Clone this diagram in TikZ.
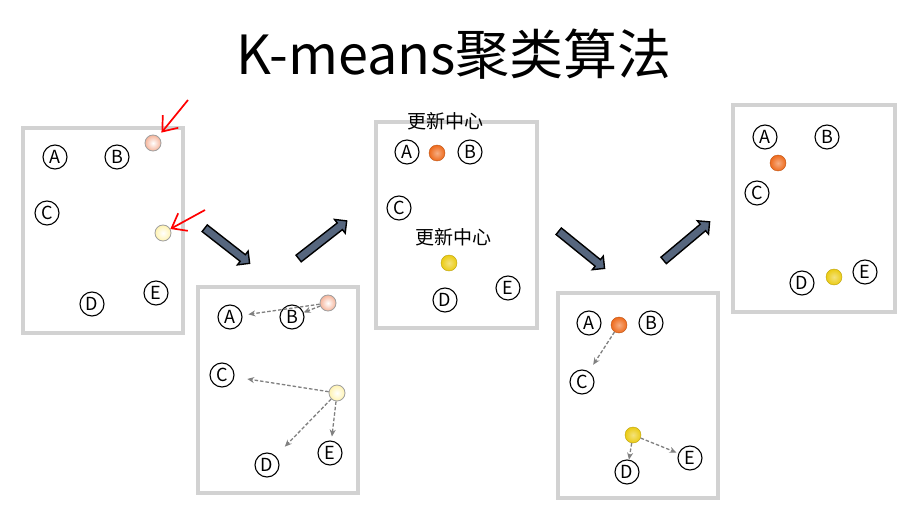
\documentclass[tikz,border=0pt]{standalone}
\usepackage{fontspec}
\setmainfont{Noto Sans CJK SC}
\usetikzlibrary{arrows.meta,shapes.arrows,calc}
\definecolor{ardoise}{HTML}{56667E}
\definecolor{peche}{HTML}{F6B49A}
\definecolor{paille}{HTML}{FFF3B0}
\definecolor{orangec}{HTML}{EE6A1C}
\definecolor{jaunec}{HTML}{EBCB12}

\begin{document}
\begin{tikzpicture}[x=1pt,y=-1pt,
	pt/.style={circle,draw,line width=1.1pt,minimum size=24pt,inner sep=0pt,font=\fontsize{18}{18}\selectfont},
	cadre/.style={fill=white,draw=gray!35,line width=4.5pt},
	ctr/.style={circle,minimum size=16pt,inner sep=0pt,draw=#1!80!black,line width=0.4pt,inner color=#1!55!white,outer color=#1},
	pale/.style={circle,minimum size=16pt,inner sep=0pt,draw=gray!75,line width=0.8pt,inner color=white,outer color=#1},
	lien/.style={draw=gray,line width=1.3pt,dash pattern=on 3.5pt off 2pt,-{Stealth[length=7pt,width=6pt]}},
	fleche/.style={single arrow,draw=black,line width=1.4pt,fill=ardoise,single arrow head extend=4.5pt,single arrow head indent=0pt,minimum height=#1,inner sep=3.5pt},
	rouge/.style={red,line width=1.7pt,-{Straight Barb[length=13pt,width=20pt]}},
	maj/.style={font=\fontsize{19}{19}\selectfont}]
					%\draw[help lines] (0,0) grid[step=50] (914,511);
					\useasboundingbox (0,0) rectangle (914,511);

					%TITRE
					\node[anchor=base,font=\fontsize{54}{60}\selectfont] (titre) at (454,75) {K-means聚类算法};

					%CADRES
					\draw[cadre] (23,128) rectangle (183,333);
					\draw[cadre] (198,287) rectangle (358,493);
					\draw[cadre] (376,122) rectangle (537,328);
					\draw[cadre] (558,293) rectangle (718,498);
					\draw[cadre] (733,105) rectangle (895,312);

					%ETAPE 1 : centres au hasard
					\node[pt] (A1) at (55,157) {A};
					\node[pt] (B1) at (117,157) {B};
					\node[pt] (C1) at (47,213) {C};
					\node[pt] (D1) at (92,304) {D};
					\node[pt] (E1) at (156,293) {E};
					\node[pale=peche] (k1a) at (153,143) {};
					\node[pale=paille] (k1b) at (163,233) {};
					\coordinate (r1) at (188,100);
					\coordinate (r2) at (205,210);
					\draw[rouge,shorten >=5pt] (r1) -- (k1a);
					\draw[rouge] (r2) -- (k1b);

					%ETAPE 2 : affectation
					\node[pt] (A2) at (230,317) {A};
					\node[pt] (B2) at (292,317) {B};
					\node[pt] (C2) at (222,375) {C};
					\node[pt] (D2) at (267,465) {D};
					\node[pt] (E2) at (330,453) {E};
					\node[pale=peche] (k2a) at (328,303) {};
					\node[pale=paille] (k2b) at (337,393) {};
					\draw[lien,shorten >=6pt] (k2a) -- (A2);
					\draw[lien] (k2a) -- (B2);
					\draw[lien,shorten >=13pt] (k2b) -- (C2);
					\draw[lien,shorten >=13pt] (k2b) -- (D2);
					\draw[lien,shorten >=4pt] (k2b) -- (E2);

					%ETAPE 3 : nouveaux centres
					\node[maj] (t3a) at (445,121) {更新中心};
					\node[pt] (A3) at (407,152) {A};
					\node[pt] (B3) at (470,152) {B};
					\node[pt] (C3) at (399,208) {C};
					\node[maj] (t3b) at (453,237) {更新中心};
					\node[pt] (D3) at (445,300) {D};
					\node[pt] (E3) at (508,288) {E};
					\node[ctr=orangec] (k3a) at (437,153) {};
					\node[ctr=jaunec] (k3b) at (449,263) {};

					%ETAPE 4 : nouvelle affectation
					\node[pt] (A4) at (589,323) {A};
					\node[pt] (B4) at (651,323) {B};
					\node[pt] (C4) at (582,382) {C};
					\node[pt] (D4) at (627,472) {D};
					\node[pt] (E4) at (690,458) {E};
					\node[ctr=orangec] (k4a) at (619,325) {};
					\node[ctr=jaunec] (k4b) at (633,435) {};
					\draw[lien,shorten >=8pt] (k4a) -- (C4);
					\draw[lien] (k4b) -- (D4);
					\draw[lien,shorten >=2pt] (k4b) -- (E4);

					%ETAPE 5 : resultat
					\node[pt] (A5) at (765,137) {A};
					\node[pt] (B5) at (827,137) {B};
					\node[pt] (C5) at (757,193) {C};
					\node[pt] (D5) at (802,283) {D};
					\node[pt] (E5) at (865,272) {E};
					\node[ctr=orangec] (k5a) at (778,163) {};
					\node[ctr=jaunec] (k5b) at (834,277) {};

					%FLECHES
					\node[fleche=57pt,rotate=-38] (f1) at (225.5,244.5) {};
					\node[fleche=61pt,rotate=38] (f2) at (321,241) {};
					\node[fleche=59pt,rotate=-39] (f3) at (580,248.5) {};
					\node[fleche=60pt,rotate=40] (f4) at (685,242.5) {};
\end{tikzpicture}
\end{document}
